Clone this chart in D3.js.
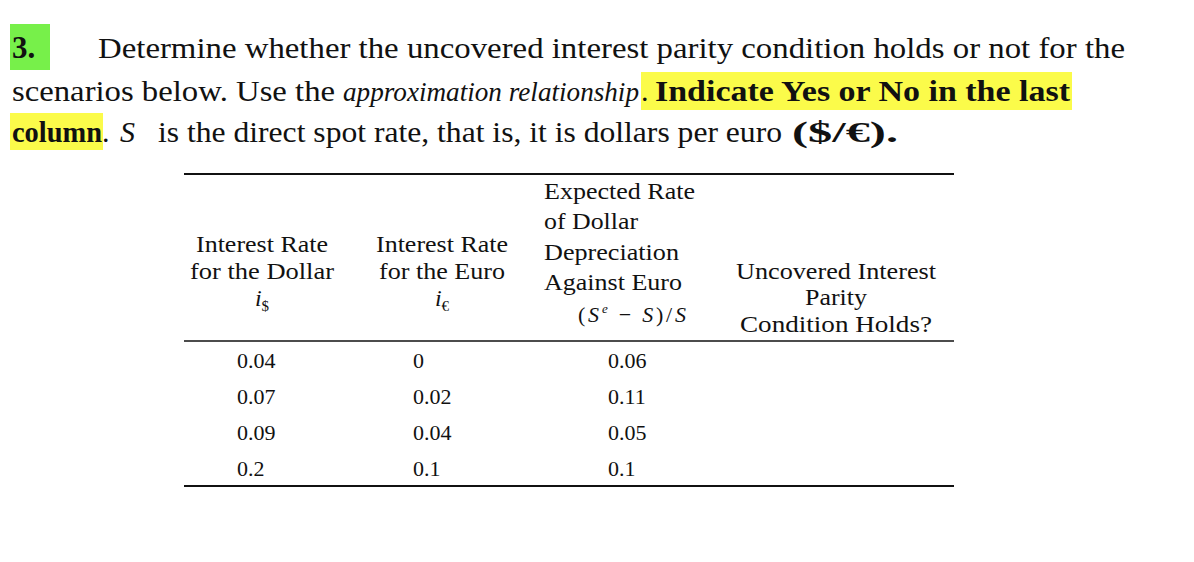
<!DOCTYPE html>
<html><head><meta charset="utf-8">
<script src="https://cdn.jsdelivr.net/npm/d3@7"></script>
<style>body{margin:0;background:#fff}text{font-family:"Liberation Serif","DejaVu Serif",serif;fill:#111}</style>
</head><body><div id="c"></div>
<script>
/* DATA */
const iDollar = ["0.04", "0.07", "0.09", "0.2"];
const iEuro = ["0", "0.02", "0.04", "0.1"];
const depreciation = ["0.06", "0.11", "0.05", "0.1"];

const width = 1194, height = 562;
const svg = d3.select("#c").append("svg").attr("width", width).attr("height", height);

// highlights
svg.append("rect").attr("x", 10).attr("y", 24).attr("width", 40).attr("height", 46).attr("fill", "#77f04a");
svg.append("rect").attr("x", 641).attr("y", 72).attr("width", 431).attr("height", 38).attr("fill", "#fbfb4a");
svg.append("rect").attr("x", 10).attr("y", 113).attr("width", 93).attr("height", 37).attr("fill", "#fbfb4a");

// question text
svg.append("text").attr("x", 12).attr("y", 58).attr("font-size", 31).attr("font-weight", "bold").text("3.");
svg.append("text").attr("x", 98).attr("y", 58).attr("font-size", 30)
  .attr("textLength", 1027).attr("lengthAdjust", "spacingAndGlyphs")
  .text("Determine whether the uncovered interest parity condition holds or not for the");
const l2 = svg.append("text").attr("y", 101).attr("font-size", 30);
l2.append("tspan").attr("x", 12).attr("textLength", 323).attr("lengthAdjust", "spacingAndGlyphs").text("scenarios below. Use the");
l2.append("tspan").attr("x", 343).attr("font-style", "italic").attr("font-size", 27)
  .attr("textLength", 296).attr("lengthAdjust", "spacingAndGlyphs").text("approximation relationship");
l2.append("tspan").attr("x", 641).text(".");
l2.append("tspan").attr("x", 655).attr("font-weight", "bold").attr("textLength", 415).attr("lengthAdjust", "spacingAndGlyphs")
  .text("Indicate Yes or No in the last");
const l3 = svg.append("text").attr("y", 142).attr("font-size", 30);
l3.append("tspan").attr("x", 12).attr("font-weight", "bold").attr("textLength", 90).attr("lengthAdjust", "spacingAndGlyphs").text("column");
l3.append("tspan").text(".");
l3.append("tspan").attr("x", 120).attr("font-style", "italic").text("S");
l3.append("tspan").attr("x", 158).attr("textLength", 624).attr("lengthAdjust", "spacingAndGlyphs")
  .text("is the direct spot rate, that is, it is dollars per euro");
l3.append("tspan").attr("x", 792).attr("font-weight", "bold").attr("textLength", 106).attr("lengthAdjust", "spacingAndGlyphs").text("($/€).");

// table rules
const x0 = 184, x1 = 954;
[[174, 2], [341, 1.5], [486, 2]].forEach(([y, w]) =>
  svg.append("line").attr("x1", x0).attr("x2", x1).attr("y1", y).attr("y2", y)
    .attr("stroke", "#111").attr("stroke-width", w));

// headers
const hs = 23;
function lines(x, ys, arr, anchor, lens) {
  arr.forEach((t, i) => svg.append("text").attr("x", x).attr("y", ys[i])
    .attr("font-size", hs).attr("text-anchor", anchor)
    .attr("textLength", lens[i]).attr("lengthAdjust", "spacingAndGlyphs").text(t));
}
lines(262, [252, 279], ["Interest Rate", "for the Dollar"], "middle", [132, 144]);
lines(442, [252, 279], ["Interest Rate", "for the Euro"], "middle", [132, 126]);
lines(544, [199, 229, 260, 290], ["Expected Rate", "of Dollar", "Depreciation", "Against Euro"], "start", [151, 94, 135, 138]);
lines(836, [279, 305, 332], ["Uncovered Interest", "Parity", "Condition Holds?"], "middle", [200, 62, 192]);

const m1 = svg.append("text").attr("x", 262).attr("y", 306).attr("font-size", 24).attr("text-anchor", "middle").attr("font-style", "italic");
m1.append("tspan").text("i");
m1.append("tspan").attr("font-size", 15).attr("dy", 5).attr("font-style", "normal").text("$");
const m2 = svg.append("text").attr("x", 442).attr("y", 306).attr("font-size", 24).attr("text-anchor", "middle").attr("font-style", "italic");
m2.append("tspan").text("i");
m2.append("tspan").attr("font-size", 15).attr("dy", 5).attr("font-style", "normal").text("€");
const m3 = svg.append("text").attr("x", 578).attr("y", 322).attr("font-size", 22).attr("font-style", "italic")
  .attr("textLength", 108).attr("lengthAdjust", "spacing");
m3.append("tspan").attr("font-style", "normal").text("(");
m3.append("tspan").text("S");
m3.append("tspan").attr("font-size", 13).attr("dy", -9).text("e");
m3.append("tspan").attr("dy", 9).attr("font-style", "normal").text(" − ");
m3.append("tspan").text("S");
m3.append("tspan").attr("font-style", "normal").text(")/");
m3.append("tspan").text("S");

// rows
const yRow = d3.scaleBand().domain(d3.range(iDollar.length)).range([342, 486]);
[[iDollar, 237], [iEuro, 413], [depreciation, 608]].forEach(([col, x]) => {
  svg.selectAll(null).data(col).join("text")
    .attr("x", x).attr("y", (d, i) => yRow(i) + yRow.bandwidth() / 2 + 8)
    .attr("font-size", 22).text(d => d);
});
</script></body></html>
